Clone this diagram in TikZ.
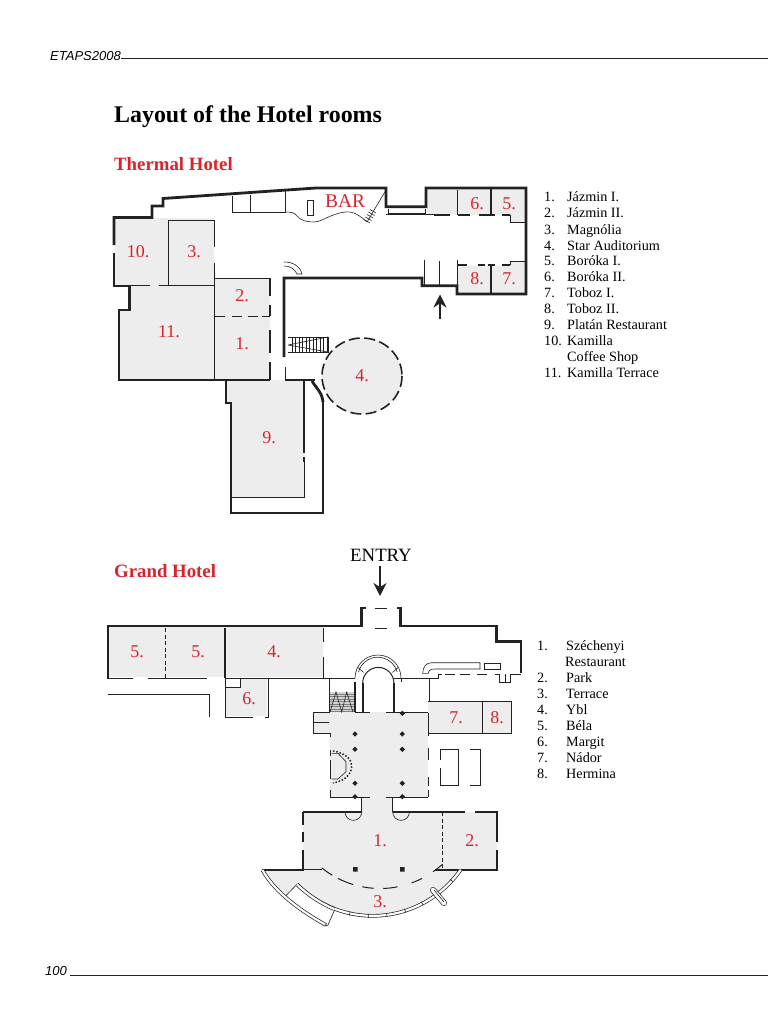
\documentclass[tikz,border=0pt]{standalone}
\usepackage{fontspec}
\setmainfont{Liberation Serif}
\setsansfont{Liberation Sans}
\usetikzlibrary{arrows.meta,shapes.geometric}
\definecolor{roomgrey}{HTML}{EDEDED}
\definecolor{ink}{HTML}{222222}
\definecolor{labred}{HTML}{D8232A}
\tikzset{
  wall/.style={draw=ink,line width=2.8pt,line join=miter},
  mid/.style={draw=ink,line width=1.6pt},
  thin/.style={draw=ink,line width=1pt},
  hair/.style={draw=ink,line width=.6pt},
  num/.style={text=labred,font=\fontsize{18}{20}\selectfont,inner sep=0pt},
  legend/.style={anchor=base west,inner sep=0pt,font=\fontsize{14.2}{16}\selectfont,text=black},
  heading/.style={anchor=base west,inner sep=0pt,text=labred,font=\fontsize{18.8}{22}\selectfont\bfseries},
  pillar/.style={fill=ink,draw=none,shape=diamond,minimum size=5.5pt,inner sep=0pt},
  headline/.style={anchor=base west,inner sep=0pt,font=\fontsize{13}{15}\selectfont\sffamily\itshape},
  rule/.style={draw=ink,line width=1pt},
  bigarrow/.style={draw=ink,line width=2.6pt,-{Stealth[length=13pt,width=13pt]}},
}
\begin{document}
\begin{tikzpicture}[x=1pt,y=-1pt]
\useasboundingbox (0,0) rectangle (768,1024);
% page furniture
\node[headline] (hdr) at (50,61) {ETAPS2008};
\coordinate (hdrend) at (768,59);
\coordinate (hdrstart) at (121,59);
\draw[rule] (hdrstart) -- (hdrend);
\node[headline] (ftr) at (45,975) {100};
\coordinate (ftrstart) at (70,975);
\coordinate (ftrend) at (768,975);
\draw[rule] (ftrstart) -- (ftrend);
\node[anchor=base west,inner sep=0pt,font=\fontsize{23.9}{28}\selectfont\bfseries] (title) at (114,123) {Layout of the Hotel rooms};
\node[heading] (h1) at (114,171) {Thermal Hotel};
\node[heading] (h2) at (114,577) {Grand Hotel};

% ===== THERMAL: fills
\fill[roomgrey] (115,218) rectangle (214,286);
\fill[roomgrey] (130,286) -- (215,286) -- (215,380) -- (120,380) -- (120,311) -- (130,311) -- cycle;
\fill[roomgrey] (215,278) rectangle (270,380);
\fill[roomgrey] (227,380) -- (304,380) -- (304,497) -- (232,497) -- (232,403) -- (227,403) -- cycle;
\fill[roomgrey] (362,376) ellipse [x radius=40,y radius=38];
\fill[roomgrey] (427,189) rectangle (491,215);
\fill[roomgrey] (491,189) -- (525,189) -- (525,223) -- (510,223) -- (510,215) -- (491,215) -- cycle;
\fill[roomgrey] (458,266) rectangle (491,293);
\fill[roomgrey] (491,266) -- (510,266) -- (510,261) -- (525,261) -- (525,293) -- (491,293) -- cycle;
% thermal: outer walls
\draw[wall] (114,245) -- (114,217.5) -- (152,217.5) -- (152,206) -- (163,206) -- (163,198.5) -- (316,188) -- (386,188) -- (386,206.7) -- (426,206.7) -- (426,188) -- (526,188) -- (526,294) -- (457,294) -- (457,285.7) -- (422,285.7) -- (422,278) -- (284,278) -- (284,357);
\draw[wall] (114,253) -- (114,286) -- (129.5,286) -- (129.5,310) -- (119,310) -- (119,380) -- (270,380);
\draw[mid] (129,285.3) -- (150,285.3) (159,285.3) -- (214,285.3);
\draw[mid] (285.5,367) -- (285.5,380) -- (315,380);
\draw[wall] (226,380) -- (226,403) -- (231,403) -- (231,513) -- (323,513) -- (323,402);
\draw[wall] (323,402) .. controls (322,392) and (316,388) .. (312,381);
% thermal: inner thin walls
\draw[thin] (168,285) -- (168,220.7) -- (214.3,220.7) -- (214.3,247);
\draw[thin] (214.3,263) -- (214.3,380);
\draw[thin] (215,278) -- (270,278);
\draw[mid] (270,278) -- (270,296) (270,305) -- (270,316) (270,330) -- (270,353) (270,362) -- (270,380);
\draw[thin] (215,316) -- (225,316) (232,316) -- (242,316) (248,316) -- (258,316) (262,316) -- (270,316);
\draw[thin] (232,497) -- (304,497) -- (304,462);
\draw[mid] (304,381) -- (304,453) (304,457) -- (304,462);
% thermal: top details
\draw[thin] (232,196) -- (232,213) -- (285,213) -- (285,191) (250,195) -- (250,213);
\draw[hair] (307,200) rectangle (313,215);
\draw[hair] (285,212) .. controls (292,212) and (295,213) .. (297,216) .. controls (301,221) and (308,222) .. (314,222) .. controls (322,222) and (330,214) .. (345,212) .. controls (354,211) and (360,216) .. (367,222);
\draw[hair] (367,222) -- (386,190);
\draw[hair] (364,219.5) -- (370,223) (365.5,217) -- (371.5,220.5) (367,214.5) -- (373,218) (368.5,212) -- (374.5,215.5) (370,209.5) -- (376,213);
\draw[thin] (386,215) -- (434,215);
\draw[hair] (388,209) -- (388,213) -- (425,213) -- (425,209);
\draw[thin] (457.3,190) -- (457.3,215);
\draw[mid] (491,189) -- (491,215);
\draw[mid] (434,215) -- (450,215) (458,215) -- (470,215) (479,215) -- (495,215) (502,215) -- (510,215);
\draw[thin] (510,215) -- (510,223) -- (526,223);
\draw[thin] (510,265) -- (510,261) -- (526,261);
\draw[mid] (458,265) -- (467,265) (478,265) -- (485,265) (488,265) -- (495,265) (502,265) -- (510,265);
\draw[thin] (457,260) -- (457,286);
\draw[mid] (491,265) -- (491,293);
\draw[thin] (424,260) -- (424,285) (439,261) -- (439,285);
% thermal: door
\draw[hair] (284,262) .. controls (293,262) and (300,266) .. (302,274) -- (297,274) .. controls (295,269) and (290,266) .. (284,266);
% thermal: stairs
\draw[hair] (288,337) -- (328,337) -- (328,352) -- (288,352);
\foreach \i in {292,295.5,...,328} {\draw[hair] (\i,337) -- (\i,352);}
\draw[hair] (288,345) -- (328,337) (288,345) -- (328,352);
% thermal: circle
\draw[mid,dash pattern=on 11pt off 4.5pt] (362,376) ellipse [x radius=40,y radius=38];
% thermal entry arrow
\coordinate (ta1) at (440,319);
\coordinate (ta2) at (440,294.5);
\draw[bigarrow] (ta1) -- (ta2);

% thermal labels
\node[num] (t10) at (138,252) {10.};
\node[num] (t3) at (194,252) {3.};
\node[num] (t2) at (242,296) {2.};
\node[num] (t11) at (169,332) {11.};
\node[num] (t1) at (242,344) {1.};
\node[num] (t9) at (269,438) {9.};
\node[num] (t4) at (362,376) {4.};
\node[num,font=\fontsize{19.4}{21}\selectfont] (tbar) at (345,201) {BAR};
\node[num] (t6) at (477,204) {6.};
\node[num] (t5) at (509,204) {5.};
\node[num] (t8) at (477,279) {8.};
\node[num] (t7) at (509,279) {7.};

% thermal legend
\foreach \y/\n/\t in {202/1./Jázmin I.,218/2./Jázmin II.,234/3./Magnólia,250/4./Star Auditorium,265/5./Boróka I.,281/6./Boróka II.,297/7./Toboz I.,313/8./Toboz II.,329/9./Platán Restaurant,345/10./Kamilla,377/11./Kamilla Terrace}{
  \node[legend] at (544,\y) {\n};
  \node[legend] at (567,\y) {\t};
}
\node[legend] (tcs) at (567,361) {Coffee Shop};

% ===== GRAND: fills
\fill[roomgrey] (109,627) rectangle (323,677);
\fill[roomgrey] (226,678) -- (267,678) -- (267,716) -- (226,716) -- (226,688) -- (240,688) -- (240,678) -- cycle;
\fill[roomgrey] (241,678) rectangle (267,716);
\fill[roomgrey] (428.3,701) rectangle (511.7,733.3);
\fill[roomgrey] (330,712) rectangle (428.3,797);
\fill[roomgrey] (313.3,712.7) rectangle (330,733.3);
\fill[roomgrey] (362,797) rectangle (392.7,812);
\fill[roomgrey] (303,812) rectangle (497,870);
\fill[roomgrey] (262,870) -- (460,870) arc [start angle=34.7,end angle=135,radius=107] -- (285,896.7) .. controls (275,888) and (268,880) .. (262,870) -- cycle;
% grand: stair
\fill[gray!35] (329,692) rectangle (354,712);
\foreach \i in {694,696.5,...,712} {\draw[line width=.4pt,gray] (329,\i) -- (354,\i);}
\draw[hair] (330,712) -- (336,692) -- (341.7,712) -- (346.7,692) -- (353,712);
% grand: outer walls
\draw[wall] (108,678.5) -- (108,626) -- (361.7,626) -- (361.7,608) -- (365.7,608);
\draw[wall] (396.7,608) -- (400.5,608) -- (400.5,626) -- (496.7,626) -- (496.7,641.7) -- (521,641.7) -- (521,673);
\draw[thin] (375,608.3) -- (386.7,608.3) (375,628.3) -- (386.7,628.3);
\draw[thin] (108,678) -- (133,678) (148,678) -- (207,678) (225,678) -- (329,678);
\draw[thin,dash pattern=on 4pt off 2.5pt] (165.7,628) -- (165.7,678);
\draw[mid] (225,628) -- (225,678);
\draw[thin] (323.3,628) -- (323.3,642) (323.3,656.7) -- (323.3,678);
% grand: room 6
\draw[thin] (225,678) -- (225,717) -- (253,717) (265,717) -- (268.3,717) -- (268.3,678);
\draw[thin] (225,687.7) -- (240,687.7) -- (240,678);
\draw[thin] (108,694.3) -- (209,694.3) -- (209,717);
% grand: right side
\draw[thin] (521,674.3) -- (510.7,674.3) -- (510.7,682.7) -- (499,682.7) -- (499,674.3) -- (495,674.3);
\draw[hair] (505,674.3) -- (505,682.7);
\draw[thin] (487,674.3) -- (477,674.3) (470,674.3) -- (460,674.3) (455,674.3) -- (445,674.3) (442,674.3) -- (438,674.3) -- (438,678.3) -- (394,678.3);
\draw[hair] (480,662.7) -- (431.7,662.7) .. controls (426,662.7) and (423,667) .. (422.7,673.3) -- (428.3,673.3) .. controls (428.5,670) and (431,669) .. (435,669) -- (480,669) -- cycle;
\draw[hair] (484.3,663.3) rectangle (500,669);
% grand: arch
\draw[hair] (329,692) -- (329,678) -- (355,678);
\draw[thin] (329.5,678) -- (329.5,712);
\draw[hair] (355,678) arc [start angle=180,end angle=360,radius=23];
\draw[hair] (358.5,672) arc [start angle=195,end angle=345,radius=20];
\draw[thin] (362.7,683) arc [start angle=180,end angle=360,radius=15.6];
\draw[hair] (358,667.5) -- (363.5,672.5) (398,667.5) -- (392.5,672.5);
\draw[mid] (355,682) -- (355,712) (362.7,683) -- (362.7,712) (394,683) -- (394,712);
\draw[hair] (401,682) -- (401,678) ;
\draw[thin] (429.3,678) -- (429.3,701);
% grand: rooms 7 8
\draw[thin] (428.3,701) -- (511.7,701) -- (511.7,733.3) -- (428.3,733.3);
\draw[thin] (482.7,701) -- (482.7,733.3);
% grand: hall
\draw[mid] (355,712.5) -- (370,712.5) (386,712.5) -- (428.3,712.5);
\draw[thin] (330,712.7) -- (313.3,712.7) -- (313.3,733.3) -- (330,733.3) -- (330,736.5);
\draw[thin] (313.3,722.3) -- (329.3,722.3);
\draw[thin] (428.3,712.5) -- (428.3,735.7) (428.3,748) -- (428.3,760) (428.3,777) -- (428.3,786) (428.3,790) -- (428.3,797);
\draw[thin] (330,750) -- (330,756) (330,760) -- (330,779) (330,790) -- (330,797) -- (370,797) (386,797) -- (428.3,797);
\foreach \p in {(355,734),(402.3,734),(355,749.3),(402.3,749.3),(355,783.3),(402.3,783.3),(355,796.7),(402.3,796.7),(402.3,713.3)}{\node[pillar] at \p {};}
\draw[hair] (331.7,753.3) -- (338,753.3) -- (346,761.7) -- (346,771.7) -- (338,779) -- (331.7,779);
\draw[line width=1.5pt,ink,dash pattern=on 1.5pt off 1.8pt] (333,751) .. controls (345,753) and (351.7,759) .. (351.7,766) .. controls (351.7,774) and (345,781) .. (333,783);
\draw[thin] (440,760) -- (440,749.3) -- (458.3,749.3) -- (458.3,785) -- (440,785) -- (440,768);
\draw[thin] (470,749.3) -- (480,749.3) -- (480,785) -- (470,785);
% grand: passage and lower hall
\draw[thin] (361.7,797) -- (361.7,812) (392.7,797) -- (392.7,812);
\draw[hair] (345,812) arc [start angle=180,end angle=0,radius=8.35];
\draw[hair] (392.7,812) arc [start angle=180,end angle=0,radius=8.35];
\draw[wall,line width=2pt] (303.3,811.7) -- (361.7,811.7) (392.7,811.7) -- (465,811.7) (475,811.7) -- (497.3,811.7) -- (497.3,841.7);
\draw[wall,line width=2pt] (303.3,811.7) -- (303.3,825) (303.3,831.7) -- (303.3,841.7) (303.3,850) -- (303.3,870) -- (261.7,870);
\draw[wall,line width=2pt] (497.3,850) -- (497.3,870) -- (435,870);
\draw[hair,dash pattern=on 4pt off 2.5pt] (442.3,812) -- (442.3,870);
\draw[thin] (303.3,869) -- (321.7,869);
\foreach \a/\b in {129/121,117/107,101/94,88/79,70/63,55/48}{\draw[thin] (380,796) ++(\a:92.5) arc [start angle=\a,end angle=\b,radius=92.5];}
\fill[ink] (353,867) rectangle (357.5,871.5) (400,867) rectangle (404.5,871.5);
% grand: south arcs
\draw[ink,line width=.7pt,double=white,double distance=2.2pt] (297,884.5) arc [start angle=135,end angle=34.7,radius=107];
\foreach \a in {132,122,112,102,92,82,72,62,52,42}{\draw[hair] (372,809) ++(\a:105) -- ++(\a:4);}
\fill[white] (284,898) -- (296.5,886) .. controls (308,897) and (320,904) .. (334,910) -- (326,924) .. controls (310,915) and (296,907) .. (284,898) -- cycle;
\draw[hair] (285,896.7) -- (296.7,884.5);
\draw[ink,line width=.7pt,double=white,double distance=2.2pt] (262.5,870) .. controls (272,888) and (295,908) .. (326,925);
\draw[ink,line width=.7pt,double=white,double distance=2.2pt] (297,884.5) .. controls (308,895) and (320,903) .. (334,909);
\draw[hair] (334.5,910) -- (328,925) .. controls (327,927) and (325,926) .. (325,924);
% small door
\draw[ink,line width=6pt,line cap=round] (433,890) -- (444,903);
\draw[white,line width=4.6pt,line cap=round] (433,890) -- (444,903);
\draw[hair] (434,890) -- (444,902);

% grand labels
\node[num] (g5a) at (137,652) {5.};
\node[num] (g5b) at (198,652) {5.};
\node[num] (g4) at (274,652) {4.};
\node[num] (g6) at (249,699) {6.};
\node[num] (g7) at (456,718) {7.};
\node[num] (g8) at (497,718) {8.};
\node[num] (g1) at (380,841) {1.};
\node[num] (g2) at (472,841) {2.};
\node[num] (g3) at (380,902) {3.};
% entry
\node[anchor=base,inner sep=0pt,font=\fontsize{18.8}{20}\selectfont] (entry) at (381,561) {ENTRY};
\coordinate (ea1) at (380,566);
\coordinate (ea2) at (380,596);
\draw[bigarrow] (ea1) -- (ea2);
% grand legend
\foreach \y/\n/\t in {650/1./Széchenyi,682/2./Park,698/3./Terrace,714/4./Ybl,730/5./Béla,746/6./Margit,762/7./Nádor,778/8./Hermina}{
  \node[legend] at (537,\y) {\n};
  \node[legend] at (566,\y) {\t};
}
\node[legend] (grest) at (565,666) {Restaurant};
\end{tikzpicture}
\end{document}
